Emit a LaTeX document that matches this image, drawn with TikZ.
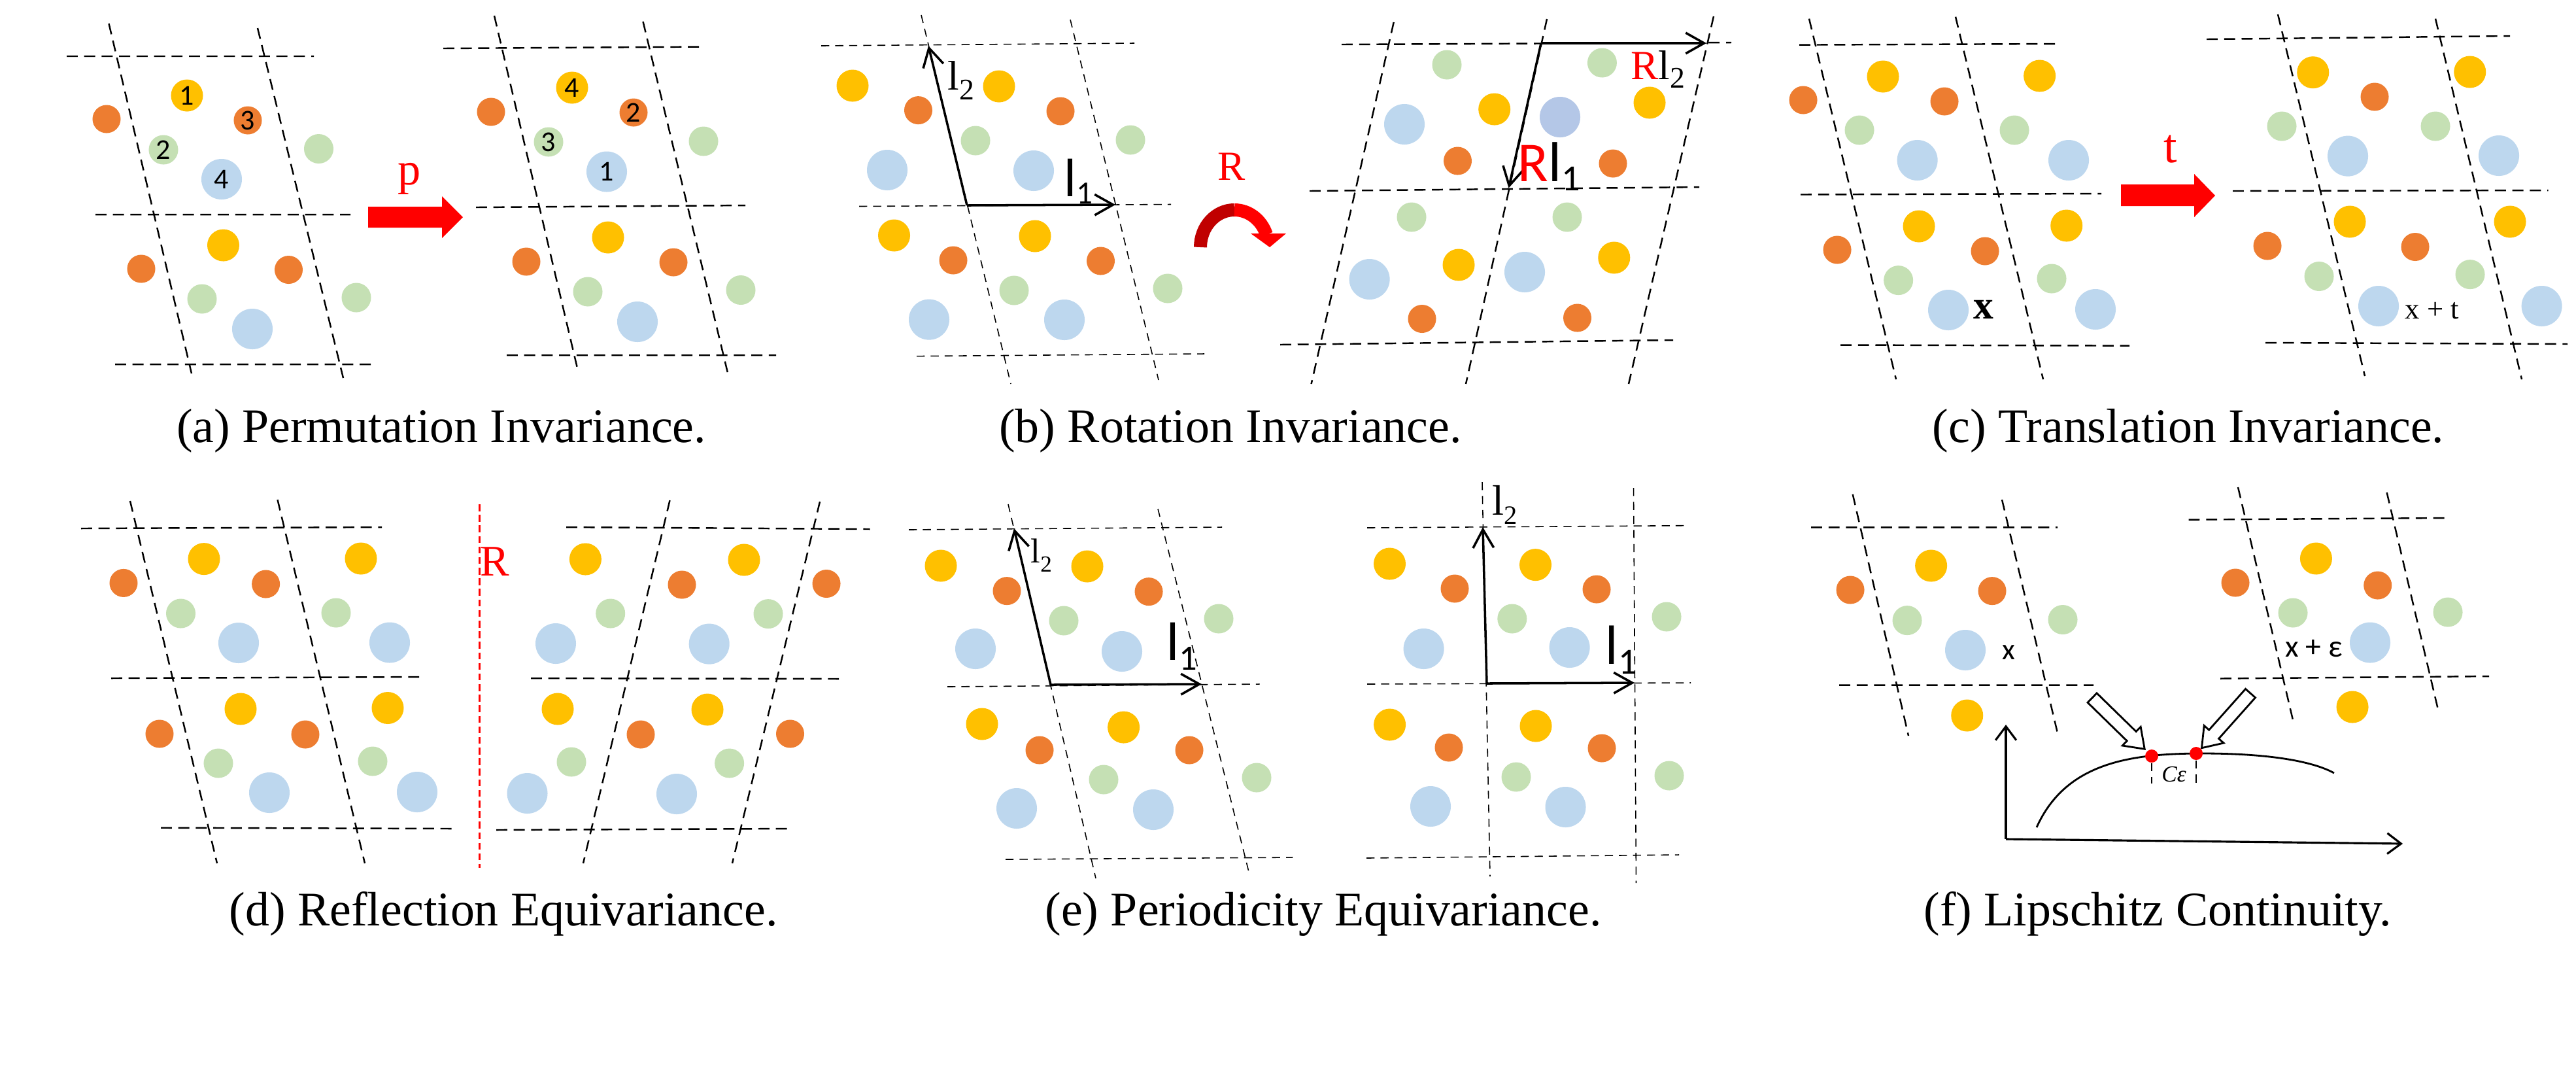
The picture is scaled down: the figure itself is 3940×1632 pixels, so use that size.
\documentclass[tikz,border=0pt]{standalone}
\usepackage{fontspec}
\setmainfont{Liberation Serif}
\newfontfamily\calibri{Carlito}
\usetikzlibrary{arrows.meta}
\definecolor{atomO}{HTML}{ED7D31}
\definecolor{atomY}{HTML}{FFC000}
\definecolor{atomG}{HTML}{C5E0B4}
\definecolor{atomB}{HTML}{BDD7EE}
\definecolor{atomBd}{HTML}{B4C7E7}
\definecolor{darkR}{HTML}{C00000}
\newcommand{\fsz}[1]{\fontsize{#1}{#1}\selectfont}
\tikzset{
  atom/.style={circle,inner sep=0pt,draw=none},
  oatom/.style={atom,fill=atomO,minimum size=0.43cm},
  yatom/.style={atom,fill=atomY,minimum size=0.49cm},
  gatom/.style={atom,fill=atomG,minimum size=0.45cm},
  batom/.style={atom,fill=atomB,minimum size=0.62cm},
  numtxt/.style={font=\calibri\fsz{12.5}},
  lat/.style={line width=0.7pt,dash pattern=on 4.8pt off 2.8pt},
  latthin/.style={line width=0.45pt,dash pattern=on 3.5pt off 2.6pt},
  mirrorln/.style={red,line width=0.6pt,dash pattern=on 3pt off 1.6pt},
  vec/.style={line width=1pt,-{Straight Barb[length=8pt,width=9pt]}},
  axisln/.style={line width=0.9pt,-{Straight Barb[length=6pt,width=9pt]}},
  txt/.style={inner sep=0pt,anchor=base},
  capt/.style={inner sep=0pt,anchor=base,font=\fsz{21}},
}
\begin{document}
\begin{tikzpicture}[x=0.01cm,y=-0.01cm]
\useasboundingbox (0,0) rectangle (3940,1632);
% lattices
\draw[lat] (102,86)--(480,86) (146,328)--(536,328) (176,557)--(571,557) (166.5,36)--(293,571) (394,43)--(525,578);
\draw[lat] (678,74)--(1073,71.5) (728,317)--(1140,314) (775,543)--(1187,543) (756,24)--(884,567) (983.5,33)--(1113,570);
\draw[latthin] (1256,70)--(1735,66) (1314,315.5)--(1791,312.5) (1402,544.6)--(1842,541) (1409,23)--(1546,587) (1637,30)--(1772,581);
\draw[lat] (2052,68)--(2648,65) (2003,292)--(2599,286) (1958,527)--(2559,520) (2131.7,34)--(2005.6,587) (2366,29)--(2242,587) (2621,25)--(2491,587);
\draw[lat] (2752,68.6)--(3147,67) (2754,297.5)--(3214,296) (2815,527.5)--(3257,528.6) (2767,28.6)--(2900,580) (2991,25.7)--(3125,580);
\draw[lat] (3375,60)--(3839,55) (3415,292)--(3897.6,291) (3465,524)--(3927,526) (3484,22)--(3617,575) (3725,28.6)--(3857,580);
\draw[lat] (124,808)--(584,806) (170,1037)--(648,1035) (246,1265.7)--(691,1267) (199,766)--(332,1320) (424.5,764)--(558,1320);
\draw[lat] (866,806)--(1330.6,809) (812,1037)--(1284,1038) (759,1269)--(1206,1267) (1024.5,765)--(892,1320) (1254,767)--(1120,1320);
\draw[mirrorln] (733.5,771)--(733.5,1327);
\draw[latthin] (1390,810)--(1869,806) (1449,1050)--(1926.5,1046) (1538,1314)--(1977,1311) (1542,771)--(1676,1343) (1771,778)--(1910,1333);
\draw[latthin] (2091,807)--(2584,803.6) (2091,1046)--(2586,1044) (2090,1312)--(2568,1307) (2267,737)--(2279,1340) (2498.5,746)--(2502.5,1350);
\draw[lat] (2770,806.4)--(3147,806.4) (2813,1047.5)--(3202,1047.5) (2833.7,755.7)--(2919,1125) (3062,764)--(3148,1125);
\draw[lat] (3347.5,794.6)--(3741,792) (3396,1037.5)--(3807,1034) (3423,745)--(3507,1101) (3650.6,753)--(3729,1085);
% (a) atoms
\node[yatom,numtxt] (aL1) at (286,146) {1};
\node[gatom,numtxt] (aL2) at (250,229) {2};
\node[oatom,numtxt] (aL3) at (379,184) {3};
\node[batom,numtxt] (aL4) at (339,274) {4};
\node[yatom] (aLy) at (341.5,375) {};
\foreach \x/\y [count=\i] in {163/182,216/411,441.5/412.5} \node[oatom] (aLo\i) at (\x,\y) {};
\foreach \x/\y [count=\i] in {487.5/227.5,309/457,545/455} \node[gatom] (aLg\i) at (\x,\y) {};
\node[batom] (aLb) at (386,503) {};
\node[yatom,numtxt] (aR4) at (875,134) {4};
\node[oatom,numtxt] (aR2) at (969,172) {2};
\node[gatom,numtxt] (aR3) at (839,217) {3};
\node[batom,numtxt] (aR1) at (928,262.5) {1};
\node[yatom] (aRy) at (930,363) {};
\foreach \x/\y [count=\i] in {751/171,805/400,1030/401} \node[oatom] (aRo\i) at (\x,\y) {};
\foreach \x/\y [count=\i] in {1076/216,899/446,1133/443.5} \node[gatom] (aRg\i) at (\x,\y) {};
\node[batom] (aRb) at (975,492) {};
% (b) atoms
\foreach \x/\y [count=\i] in {1304/131,1528/132,1367.5/360,1583/361} \node[yatom] (bLy\i) at (\x,\y) {};
\foreach \x/\y [count=\i] in {1404.5/168.6,1622/170,1458/398,1683.5/399} \node[oatom] (bLo\i) at (\x,\y) {};
\foreach \x/\y [count=\i] in {1492/215,1729/214,1551/444,1786/441} \node[gatom] (bLg\i) at (\x,\y) {};
\foreach \x/\y [count=\i] in {1357/260,1581/261,1421/488.6,1628/489} \node[batom] (bLb\i) at (\x,\y) {};
\foreach \x/\y [count=\i] in {2213/99,2450.4/96,2159/332,2397/332} \node[gatom] (bRg\i) at (\x,\y) {};
\foreach \x/\y [count=\i] in {2285.7/167,2523/157,2231/405,2468.75/394} \node[yatom] (bRy\i) at (\x,\y) {};
\foreach \x/\y [count=\i] in {2148/190,2332/416,2094.6/427} \node[batom] (bRb\i) at (\x,\y) {};
\node[batom,fill=atomBd] (bRb4) at (2386,179) {};
\foreach \x/\y [count=\i] in {2229.5/246,2467/250,2175/487.5,2412.5/486} \node[oatom] (bRo\i) at (\x,\y) {};
% (c) atoms
\foreach \x/\y [count=\i] in {2880/117,3119.6/116,2935/346,3160.7/345} \node[yatom] (cLy\i) at (\x,\y) {};
\foreach \x/\y [count=\i] in {2758/153,2974/155,2810/382,3036/384} \node[oatom] (cLo\i) at (\x,\y) {};
\foreach \x/\y [count=\i] in {2844/199,3081/199,2903.6/428.6,3138/426} \node[gatom] (cLg\i) at (\x,\y) {};
\foreach \x/\y [count=\i] in {2932.6/245,3164/245,2980/474,3205/473} \node[batom] (cLb\i) at (\x,\y) {};
\foreach \x/\y [count=\i] in {3537.7/110.7,3777.7/110,3594/339,3839/339} \node[yatom] (cRy\i) at (\x,\y) {};
\foreach \x/\y [count=\i] in {3632/148,3468/376,3694/377.5} \node[oatom] (cRo\i) at (\x,\y) {};
\foreach \x/\y [count=\i] in {3490/193,3725/193,3547/422.5,3778/419.6} \node[gatom] (cRg\i) at (\x,\y) {};
\foreach \x/\y [count=\i] in {3591/238.6,3822/238,3638/468,3887.6/468} \node[batom] (cRb\i) at (\x,\y) {};
% (d) atoms
\foreach \x/\y [count=\i] in {312/854.6,552/854,368/1084,593/1082.5} \node[yatom] (dLy\i) at (\x,\y) {};
\foreach \x/\y [count=\i] in {189/891.4,406.6/893,244/1122,467/1123} \node[oatom] (dLo\i) at (\x,\y) {};
\foreach \x/\y [count=\i] in {276.5/938,514/937,334/1167,570/1164} \node[gatom] (dLg\i) at (\x,\y) {};
\foreach \x/\y [count=\i] in {365/983,596/982.5,412/1212,638/1211} \node[batom] (dLb\i) at (\x,\y) {};
\foreach \x/\y [count=\i] in {895.4/855,1138/856,853/1084,1082/1085} \node[yatom] (dRy\i) at (\x,\y) {};
\foreach \x/\y [count=\i] in {1043/894,1264/892.5,980/1123,1208.5/1122} \node[oatom] (dRo\i) at (\x,\y) {};
\foreach \x/\y [count=\i] in {933.7/938,1175/938.6,874/1165,1115.6/1167} \node[gatom] (dRg\i) at (\x,\y) {};
\foreach \x/\y [count=\i] in {850/984,1084.7/984.6,806.5/1213,1035/1214} \node[batom] (dRb\i) at (\x,\y) {};
% (e) atoms
\foreach \x/\y [count=\i] in {1439/865,1663/866,1502/1107,1718.6/1112} \node[yatom] (eLy\i) at (\x,\y) {};
\foreach \x/\y [count=\i] in {1540/903.6,1757/904.6,1590/1147,1819/1147} \node[oatom] (eLo\i) at (\x,\y) {};
\foreach \x/\y [count=\i] in {1627/949,1864/946,1688/1192,1922/1189} \node[gatom] (eLg\i) at (\x,\y) {};
\foreach \x/\y [count=\i] in {1492/992,1716/996,1555/1236,1764/1238} \node[batom] (eLb\i) at (\x,\y) {};
\foreach \x/\y [count=\i] in {2125.5/862,2348.5/863.6,2125.6/1108,2349/1110} \node[yatom] (eRy\i) at (\x,\y) {};
\foreach \x/\y [count=\i] in {2225/900,2442/901,2216/1143,2450/1144} \node[oatom] (eRo\i) at (\x,\y) {};
\foreach \x/\y [count=\i] in {2312.8/946,2549/943,2319/1188,2553/1186} \node[gatom] (eRg\i) at (\x,\y) {};
\foreach \x/\y [count=\i] in {2177.6/992,2400.6/990,2188/1233,2394.5/1234} \node[batom] (eRb\i) at (\x,\y) {};
% (f) atoms
\foreach \x/\y [count=\i] in {2953.6/865,3008.7/1094,3542.4/854,3598/1081} \node[yatom] (fy\i) at (\x,\y) {};
\foreach \x/\y [count=\i] in {2830/902,3047/903.6,3419/891,3636.7/895} \node[oatom] (fo\i) at (\x,\y) {};
\foreach \x/\y [count=\i] in {2917/948.6,3155/947.5,3507/937,3744/936} \node[gatom] (fg\i) at (\x,\y) {};
\foreach \x/\y [count=\i] in {3006/994,3625/982.5} \node[batom] (fb\i) at (\x,\y) {};
% lattice vectors
\coordinate (bLo) at (1479,314); \coordinate (bLt2) at (1420,70); \coordinate (bLt1) at (1706,313);
\draw[vec] (bLo)--(bLt2); \draw[vec] (bLo)--(bLt1);
\coordinate (bRo) at (2357,66); \coordinate (bRt2) at (2610,66); \coordinate (bRt1) at (2307.5,287.5);
\draw[vec] (bRo)--(bRt2); \draw[vec] (bRo)--(bRt1);
\coordinate (eLo) at (1607,1047); \coordinate (eLt2) at (1551,808); \coordinate (eLt1) at (1838,1046);
\draw[vec] (eLo)--(eLt2); \draw[vec] (eLo)--(eLt1);
\coordinate (eRo) at (2274,1045); \coordinate (eRt2) at (2268,806); \coordinate (eRt1) at (2500,1044);
\draw[vec] (eRo)--(eRt2); \draw[vec] (eRo)--(eRt1);
% operations
\fill[red] (563,316)--(676,316)--(676,300)--(708,332)--(676,364)--(676,348)--(563,348)--cycle;
\fill[red] (3244,282)--(3356,282)--(3356,266)--(3388,299)--(3356,332)--(3356,315)--(3244,315)--cycle;
\draw[line width=0.2cm,darkR] (1836,378) arc[start angle=180,end angle=90,x radius=0.52cm,y radius=0.57cm];
\draw[line width=0.2cm,red] (1888,321) arc[start angle=90,end angle=20,x radius=0.52cm,y radius=0.57cm];
\fill[red] (1913,357)--(1967,357)--(1942,378)--cycle;
% Lipschitz plot
\coordinate (f0) at (3068,1283); \coordinate (fY) at (3068,1108); \coordinate (fX) at (3675,1290);
\draw[axisln] (f0)--(fY); \draw[axisln] (f0)--(fX);
\draw[line width=0.8pt] (3115,1265) .. controls (3160,1165) and (3260,1152) .. (3370,1152) .. controls (3450,1152) and (3530,1160) .. (3570,1182);
\node[circle,fill=red,inner sep=0pt,minimum size=0.2cm] (fd1) at (3291,1156) {};
\node[circle,fill=red,inner sep=0pt,minimum size=0.2cm] (fd2) at (3359,1152) {};
\draw[latthin] (fd1)--++(0,42) (fd2)--++(0,46);
\begin{scope}[shift={(3200,1067)},rotate=-44.3]
\draw[line width=0.8pt,fill=white] (0cm,-0.1cm)--(0.84cm,-0.1cm)--(0.84cm,-0.2cm)--(1.12cm,0cm)--(0.84cm,0.2cm)--(0.84cm,0.1cm)--(0cm,0.1cm)--cycle;
\end{scope}
\begin{scope}[shift={(3442,1060)},rotate=-131.7]
\draw[line width=0.8pt,fill=white] (0cm,-0.1cm)--(0.84cm,-0.1cm)--(0.84cm,-0.2cm)--(1.12cm,0cm)--(0.84cm,0.2cm)--(0.84cm,0.1cm)--(0cm,0.1cm)--cycle;
\end{scope}
% labels
\node[txt,text=red,font=\fsz{20}] (pLab) at (626,282) {p};
\node[txt,text=red,font=\fsz{18}] (RLab) at (1884,275) {R};
\node[txt,text=red,font=\fsz{21}] (tLab) at (3320,248) {t};
\node[txt,text=red,font=\fsz{19}] (RmLab) at (757,880) {R};
\node[txt,anchor=base west] (bLl2) at (1449,137.5) {\fsz{18}l\raisebox{-0.145cm}{\fsz{13}2}};
\node[txt,anchor=base west] (bLl1) at (1627,300) {\calibri\fsz{23.5}l\raisebox{-0.11cm}{\fsz{14}1}};
\node[txt,anchor=base west] (bRl2) at (2494,121) {\fsz{18}\textcolor{red}{R}l\raisebox{-0.13cm}{\fsz{13}2}};
\node[txt,anchor=base west] (bRl1) at (2321,277) {\calibri\fsz{24.5}\textcolor{red}{R}l\raisebox{-0.14cm}{\fsz{16}1}};
\node[txt,anchor=base west] (eLl2) at (1576,860) {\fsz{15}l\raisebox{-0.14cm}{\fsz{10}2}};
\node[txt,anchor=base west] (eLl1) at (1784,1009) {\calibri\fsz{23.5}l\raisebox{-0.15cm}{\fsz{15.5}1}};
\node[txt,anchor=base west] (eRl2) at (2282,787) {\fsz{18.5}l\raisebox{-0.14cm}{\fsz{11.5}2}};
\node[txt,anchor=base west] (eRl1) at (2455,1015) {\calibri\fsz{24}l\raisebox{-0.15cm}{\fsz{16}1}};
\node[txt,font=\bfseries\fsz{17.5}] (cLx) at (3034,487.5) {x};
\node[txt,font=\fsz{12.7}] (cRx) at (3720,487.5) {x + t};
\node[txt,font=\calibri\fsz{13}] (fLx) at (3072,1008) {x};
\node[txt,font=\calibri\fsz{13.5}] (fRx) at (3539,1004.6) {x + ε};
\node[txt,font=\itshape\fsz{10}] (fC) at (3325,1195) {Cε};
% captions
\node[capt] (capA) at (675,676) {(a) Permutation Invariance.};
\node[capt] (capB) at (1882,676) {(b) Rotation Invariance.};
\node[capt] (capC) at (3347,676) {(c) Translation Invariance.};
\node[capt] (capD) at (770,1415) {(d) Reflection Equivariance.};
\node[capt] (capE) at (2024,1415) {(e) Periodicity Equivariance.};
\node[capt] (capF) at (3300,1415) {(f) Lipschitz Continuity.};
\end{tikzpicture}
\end{document}
